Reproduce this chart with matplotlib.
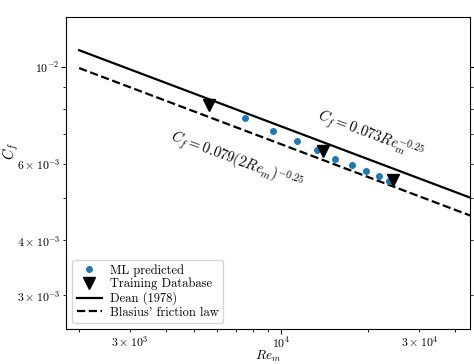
import numpy as np
import matplotlib
matplotlib.use("Agg")
import matplotlib.pyplot as plt
from matplotlib.ticker import FuncFormatter, LogLocator

plt.rcParams['font.family'] = 'serif'
plt.rcParams['font.serif'] = ['cmr10', 'DejaVu Serif']
plt.rcParams['mathtext.fontset'] = 'cm'
plt.rcParams['axes.formatter.use_mathtext'] = True

# datos
re_ml = [7470, 9355, 11320, 13310, 15390, 17520, 19640, 21710, 23630]
cf_ml = [7.63e-3, 7.13e-3, 6.745e-3, 6.43e-3, 6.155e-3, 5.94e-3, 5.77e-3, 5.61e-3, 5.465e-3]
re_train = [5630, 13910, 24250]
cf_train = [8.18e-3, 6.40e-3, 5.505e-3]

re_line = np.logspace(np.log10(2000), np.log10(50000), 50)
cf_dean = 0.073*re_line**-0.25
cf_blas = 0.079*(2*re_line)**-0.25

xminor_lab = {3000: r'$3\times10^{3}$', 30000: r'$3\times10^{4}$'}
yminor_lab = {3e-3: r'$3\times10^{-3}$', 4e-3: r'$4\times10^{-3}$', 6e-3: r'$6\times10^{-3}$'}

fig = plt.figure(figsize=(4.74, 3.64), dpi=100)
ax = fig.add_axes([0.139, 0.095, 0.853, 0.858])

ax.plot(re_ml, cf_ml, 'o', color='#1f77b4', ms=4, label='ML predicted', zorder=3)
ax.plot(re_train, cf_train, 'v', color='k', ms=8.5, label='Training Database', zorder=3)
ax.plot(re_line, cf_dean, 'k-', lw=1.6, label='Dean (1978)')
ax.plot(re_line, cf_blas, 'k--', lw=1.6, label="Blasius' friction law")

ax.set_xscale('log')
ax.set_yscale('log')
ax.set_xlim(1.8e3, 4.5e4)
ax.set_ylim(2.5e-3, 1.3e-2)

def fmt_x(v, pos):
    for k in xminor_lab:
        if abs(v - k) < 1e-6*k:
            return xminor_lab[k]
    return ''

def fmt_y(v, pos):
    for k in yminor_lab:
        if abs(v - k) < 1e-6*k:
            return yminor_lab[k]
    return ''

ax.xaxis.set_minor_locator(LogLocator(base=10, subs=np.arange(2, 10)))
ax.yaxis.set_minor_locator(LogLocator(base=10, subs=np.arange(2, 10)))
ax.xaxis.set_minor_formatter(FuncFormatter(fmt_x))
ax.yaxis.set_minor_formatter(FuncFormatter(fmt_y))
ax.tick_params(which='both', labelsize=8.5, right=True, direction='out')
ax.tick_params(which='both', pad=1.5)
ax.tick_params(which='major', length=3.5)
ax.tick_params(which='minor', length=2)

ax.text(20400, 6.955e-3, r'$C_f = 0.073Re_m^{-0.25}$', fontsize=10.5,
        rotation=-20.5, ha='center', va='center')
ax.text(7010, 6.09e-3, r'$C_f = 0.079(2Re_m)^{-0.25}$', fontsize=10.5,
        rotation=-20.5, ha='center', va='center')

# etiquetas de ejes
fig.text(0.5645, 0.0, r'$Re_m$', fontsize=9.5, ha='center', va='bottom')
fig.text(0.001, 0.585, r'$C_f$', fontsize=10.5, rotation=90, ha='left', va='center')
ax.legend(loc='lower left', fontsize=9, labelspacing=0.1, borderpad=0.35,
          handletextpad=0.7)

fig.savefig('out.png', dpi=100)
